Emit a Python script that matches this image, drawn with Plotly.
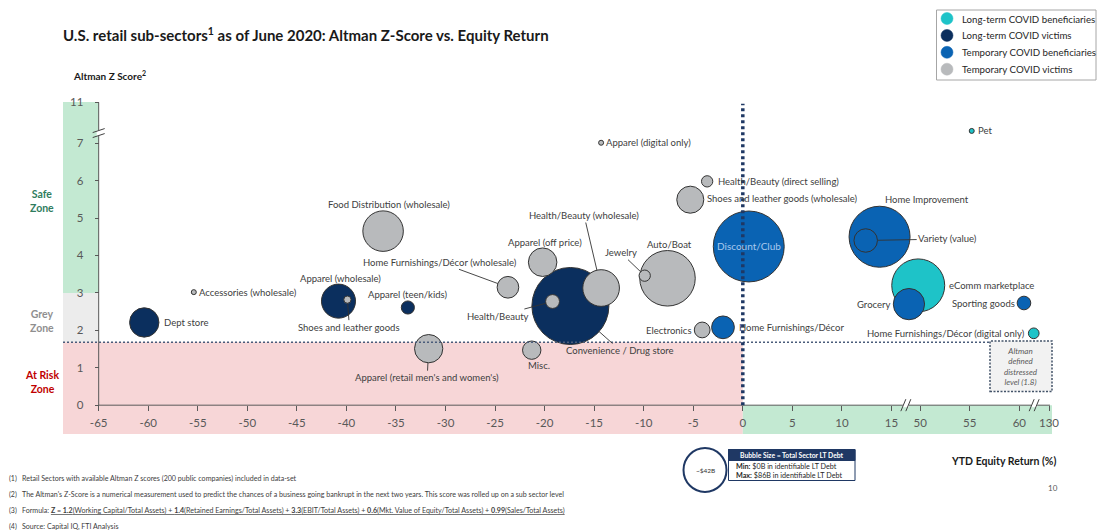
import numpy as np
import plotly.graph_objects as go

# ---------------- data ----------------
categories = ["Long-term COVID beneficiaries", "Long-term COVID victims",
              "Temporary COVID beneficiaries", "Temporary COVID victims"]

sectors = [
    "Pet", "eComm marketplace", "Home Furnishings/Décor (digital only)",
    "Convenience / Drug store", "Dept store", "Apparel (wholesale)", "Apparel (teen/kids)",
    "Discount/Club", "Home Improvement", "Variety (value)", "Grocery", "Sporting goods",
    "Home Furnishings/Décor",
    "Accessories (wholesale)", "Shoes and leather goods", "Food Distribution (wholesale)",
    "Apparel (retail men's and women's)", "Home Furnishings/Décor (wholesale)",
    "Apparel (off price)", "Misc.", "Health/Beauty", "Health/Beauty (wholesale)",
    "Apparel (digital only)", "Auto/Boat", "Jewelry", "Shoes and leather goods (wholesale)",
    "Health/Beauty (direct selling)", "Electronics",
]
sector_group = (
    ["Long-term COVID beneficiaries"] * 3
    + ["Long-term COVID victims"] * 4
    + ["Temporary COVID beneficiaries"] * 6
    + ["Temporary COVID victims"] * 15
)
ytd_return = [55.2, 47.6, 94.0,
              -17.4, -60.4, -40.8, -33.8,
              0.6, 13.8, 12.4, 36.3, 71.0, -2.0,
              -55.4, -39.9, -36.3, -31.7, -23.7, -20.2, -21.3, -19.2, -14.3,
              -14.3, -7.6, -9.9, -5.3, -3.6, -4.1]
z_score = [8.2, 3.2, 1.92,
           2.65, 2.21, 2.78, 2.61,
           4.24, 4.5, 4.4, 2.7, 2.73, 2.08,
           3.02, 2.82, 4.65, 1.51, 3.15, 3.82, 1.47, 2.77, 3.13,
           7.04, 3.39, 3.46, 5.49, 5.98, 2.01]
lt_debt = [0.36, 40.7, 1.66,
           86.0, 12.5, 16.8, 2.5,
           73.0, 54.0, 8.0, 14.2, 2.7, 7.5,
           0.23, 0.77, 23.8, 11.6, 6.8, 11.8, 4.9, 2.8, 19.5,
           0.13, 44.7, 1.85, 10.6, 1.85, 3.6]

x_tick_values = [-65, -60, -55, -50, -45, -40, -35, -30, -25, -20, -15, -10, -5, 0, 5, 10, 15, 50, 55, 60, 130]
y_tick_values = [0, 1, 2, 3, 4, 5, 6, 7, 11]

# ---------------- broken-axis scales ----------------
X_REAL = [-65, 15, 50, 60, 130]
X_AXIS = [-65, 15, 17.9, 27.9, 30.9]
Y_REAL = [0, 7, 11]
Y_AXIS = [0, 7, 8.09]


def xmap(v):
    return np.interp(v, X_REAL, X_AXIS)


def ymap(v):
    return np.interp(v, Y_REAL, Y_AXIS)


XMIN, XMAX = -68.6, 31.2
YMIN, YMAX = -0.77, 8.1
DISTRESS = 1.68

# plot area in pixels
PL, PR, PT, PB = 63, 1052, 102, 434


def fx(px):
    return (px - PL) / (PR - PL)


def fy(py):
    return (PB - py) / (PB - PT)


colors = {
    "Long-term COVID beneficiaries": "#1ec3c8",
    "Long-term COVID victims": "#0b2f5e",
    "Temporary COVID beneficiaries": "#0a63b3",
    "Temporary COVID victims": "#b8babc",
}
FONT = "Lato"
TXT = "#404040"
NAVY = "#1f3864"

sizeref = 2 * max(lt_debt) / 77 ** 2

fig = go.Figure()
for cat in categories:
    idx = [i for i, g in enumerate(sector_group) if g == cat]
    fig.add_trace(go.Scatter(
        x=xmap([ytd_return[i] for i in idx]),
        y=ymap([z_score[i] for i in idx]),
        mode="markers",
        name=cat,
        text=[sectors[i] for i in idx],
        showlegend=False,
        marker=dict(size=[lt_debt[i] for i in idx], sizemode="area", sizeref=sizeref,
                    sizemin=2.5, color=colors[cat], opacity=1,
                    line=dict(color="#333333", width=1)),
        cliponaxis=False,
    ))

# ---------------- labels ----------------
side_labels = {
    "Apparel (digital only)": ("left", 3, 0),
    "Pet": ("left", 4, 0),
    "Health/Beauty (direct selling)": ("left", 9, 0),
    "Shoes and leather goods (wholesale)": ("left", 15, -1.5),
    "Home Improvement": ("center", 47, -37),
    "Auto/Boat": ("center", 2, -34),
    "Food Distribution (wholesale)": ("center", 6, -26.5),
    "Apparel (off price)": ("center", 2, -20),
    "Apparel (wholesale)": ("center", 2, -23),
    "Apparel (teen/kids)": ("center", 0, -13),
    "Misc.": ("center", 7, 15.5),
    "Accessories (wholesale)": ("left", 3, 0),
    "Dept store": ("left", 18, 0),
    "Electronics": ("right", -8, 0.5),
    "Home Furnishings/Décor": ("left", 14, 0),
    "eComm marketplace": ("left", 28.5, 0),
    "Grocery": ("right", -17, 0),
    "Sporting goods": ("right", -7, 0),
    "Home Furnishings/Décor (digital only)": ("right", -7, 0),
}
arrow_labels = {
    "Variety (value)": (82, -1.5, 12),
    "Jewelry": (-24, -23, 6),
    "Health/Beauty (wholesale)": (-17, -72.5, 18),
    "Home Furnishings/Décor (wholesale)": (-68, -25, 11),
    "Shoes and leather goods": (2, 27.5, 4),
    "Health/Beauty": (-54.5, 14.5, 7),
    "Convenience / Drug store": (50, 44.5, 38),
    "Apparel (retail men's and women's)": (-1.5, 29, 14),
}

annotations = []
lab_font = dict(family=FONT, size=9.5, color=TXT)
for i, name in enumerate(sectors):
    xv, yv = float(xmap(ytd_return[i])), float(ymap(z_score[i]))
    if name in side_labels:
        anc, dx, dy = side_labels[name]
        annotations.append(dict(x=xv, y=yv, xref="x", yref="y", text=name, showarrow=False,
                                xanchor=anc, yanchor="middle", xshift=dx, yshift=-dy, font=lab_font))
    elif name in arrow_labels:
        ax, ay, so = arrow_labels[name]
        annotations.append(dict(x=xv, y=yv, xref="x", yref="y", text=name, showarrow=True,
                                arrowhead=0, arrowwidth=0.9, arrowcolor="#333333", ax=ax, ay=ay,
                                standoff=so, font=lab_font))
    elif name == "Discount/Club":
        annotations.append(dict(x=xv, y=yv, xref="x", yref="y", text=name, showarrow=False,
                                yshift=0.7, font=dict(family=FONT, size=10, color="#a9c9ee")))

# titles & texts
def pa(px, py, text, size, color=TXT, xanchor="left", bold=False, italic=False):
    t = text
    if bold:
        t = "<b>" + t + "</b>"
    if italic:
        t = "<i>" + t + "</i>"
    return dict(x=fx(px), y=fy(py), xref="paper", yref="paper", text=t, showarrow=False,
                xanchor=xanchor, yanchor="middle", font=dict(family=FONT, size=size, color=color))


annotations += [
    pa(61, 35, "U.S. retail sub-sectors<sup>1</sup> as of June 2020: Altman Z-Score vs. Equity Return",
       15, "#1a1a1a", bold=True),
    pa(71, 76, "Altman Z Score<sup>2</sup>", 10, "#1a1a1a", bold=True),
    pa(1058, 461, "YTD Equity Return (%)", 10.5, "#1a1a1a", xanchor="right", bold=True),
    pa(42, 201, "Safe<br>Zone", 10.5, "#2f7d5e", xanchor="center", bold=True),
    pa(42, 321, "Grey<br>Zone", 10.5, "#8f8f8f", xanchor="center", bold=True),
    pa(42, 382, "At Risk<br>Zone", 10.5, "#c00000", xanchor="center", bold=True),
    pa(1021, 366.5, "Altman<br>defined<br>distressed<br>level (1.8)", 8, "#595959",
       xanchor="center", italic=True),
    pa(1060, 488, "10", 8, "#595959", xanchor="right"),
    pa(705, 470, "~$42B", 6.5, "#333333", xanchor="center"),
    pa(791.5, 455, "Bubble Size = Total Sector LT Debt", 6.8, "#ffffff", xanchor="center", bold=True),
    pa(734, 466.5, "<b>Min:</b> $0B in identifiable LT Debt", 7.2, "#262626"),
    pa(734, 475, "<b>Max:</b> $86B in identifiable LT Debt", 7.2, "#262626"),
]

footnotes = [
    "Retail Sectors with available Altman Z scores (200 public companies) included in data-set",
    "The Altman's Z-Score is a numerical measurement used to predict the chances of a business going "
    "bankrupt in the next two years. This score was rolled up on a sub sector level",
    "Formula: <u><b>Z = 1.2</b>(Working Capital/Total Assets) + <b>1.4</b>(Retained Earnings/Total Assets) + "
    "<b>3.3</b>(EBIT/Total Assets) + <b>0.6</b>(Mkt. Value of Equity/Total Assets) + "
    "<b>0.99</b>(Sales/Total Assets)</u>",
    "Source: Capital IQ, FTI Analysis",
]
for k, note in enumerate(footnotes):
    yy = 478 + 16 * k
    annotations.append(pa(7, yy, f"({k + 1})", 7, TXT))
    annotations.append(pa(20, yy, note, 7.1, TXT))

# custom legend
leg_y = [18.5, 35.4, 52.3, 69.2]
for cat, ly in zip(categories, leg_y):
    annotations.append(pa(960, ly, cat, 9.7, "#262626"))

# ---------------- shapes ----------------
shapes = []


def rect_data(x0, x1, y0, y1, color):
    return dict(type="rect", xref="x", yref="y", x0=x0, x1=x1, y0=y0, y1=y1,
                fillcolor=color, line=dict(width=0), layer="below")


shapes += [
    rect_data(XMIN, -65, 3, YMAX, "#c3e9d2"),
    rect_data(XMIN, -65, DISTRESS, 3, "#ececec"),
    rect_data(XMIN, 0, YMIN, DISTRESS, "#f7d6d7"),
    rect_data(0, XMAX, YMIN, 0, "#c3e9d2"),
]
# distress line
shapes.append(dict(type="line", xref="paper", yref="y", x0=0, x1=fx(990), y0=DISTRESS, y1=DISTRESS,
                   line=dict(color="#4a5c7a", width=1.5, dash="2px,2px")))
# axis lines
shapes.append(dict(type="line", xref="x", yref="y", x0=-65, x1=-65, y0=0, y1=8.09,
                   line=dict(color="#595959", width=1)))
shapes.append(dict(type="line", xref="x", yref="y", x0=-65, x1=31.0, y0=0, y1=0,
                   line=dict(color="#595959", width=1)))
# zero-return line
shapes.append(dict(type="line", xref="x", yref="y", x0=0, x1=0, y0=0, y1=8.05,
                   line=dict(color=NAVY, width=3.5, dash="3px,3px")))
# distress box
shapes.append(dict(type="rect", xref="paper", yref="paper", x0=fx(990), x1=fx(1052), y0=fy(391.5), y1=fy(341),
                   fillcolor="#f2f2f2", line=dict(color="#44546a", width=1.5, dash="2px,1.5px")))

# axis break marks
def brk_x(xv):
    out = [dict(type="rect", xref="x", yref="y", xsizemode="pixel", ysizemode="pixel",
                xanchor=xv, yanchor=0, x0=-3, x1=3, y0=-2, y1=2,
                fillcolor="white", line=dict(width=0))]
    for off in (-2.5, 2.5):
        out.append(dict(type="line", xref="x", yref="y", xsizemode="pixel", ysizemode="pixel",
                        xanchor=xv, yanchor=0, x0=off - 2.5, x1=off + 2.5, y0=-6, y1=6,
                        line=dict(color="#404040", width=1)))
    return out


shapes += brk_x(16.45) + brk_x(29.4)
shapes.append(dict(type="rect", xref="x", yref="y", xsizemode="pixel", ysizemode="pixel",
                   xanchor=-65, yanchor=7.27, x0=-2, x1=2, y0=-3, y1=3,
                   fillcolor="white", line=dict(width=0)))
for off in (-2.5, 2.5):
    shapes.append(dict(type="line", xref="x", yref="y", xsizemode="pixel", ysizemode="pixel",
                       xanchor=-65, yanchor=7.27, x0=-6, x1=6, y0=off - 2, y1=off + 2,
                       line=dict(color="#404040", width=1)))

# custom legend shapes
shapes.append(dict(type="rect", xref="paper", yref="paper", x0=fx(936.5), x1=fx(1096), y0=fy(80), y1=fy(10),
                   fillcolor="white", line=dict(color="#a6a6a6", width=1)))
for cat, ly in zip(categories, leg_y):
    shapes.append(dict(type="circle", xref="paper", yref="paper", xsizemode="pixel", ysizemode="pixel",
                       xanchor=fx(947), yanchor=fy(ly), x0=-6, x1=6, y0=-6, y1=6,
                       fillcolor=colors[cat], line=dict(color=colors[cat], width=0.5)))

# bubble-size legend
shapes.append(dict(type="circle", xref="paper", yref="paper", xsizemode="pixel", ysizemode="pixel",
                   xanchor=fx(705), yanchor=fy(470), x0=-21.5, x1=21.5, y0=-22, y1=22,
                   fillcolor="white", line=dict(color=NAVY, width=2)))
shapes.append(dict(type="rect", xref="paper", yref="paper", x0=fx(728.5), x1=fx(855), y0=fy(480.5), y1=fy(449.5),
                   fillcolor="white", line=dict(color=NAVY, width=1)))
shapes.append(dict(type="rect", xref="paper", yref="paper", x0=fx(728.5), x1=fx(855), y0=fy(460.5), y1=fy(449.5),
                   fillcolor=NAVY, line=dict(color=NAVY, width=1)))

fig.update_layout(
    width=1100, height=530,
    margin=dict(l=PL, r=1100 - PR, t=PT, b=530 - PB),
    paper_bgcolor="white", plot_bgcolor="rgba(0,0,0,0)",
    font=dict(family=FONT, color=TXT),
    showlegend=False,
    xaxis=dict(range=[XMIN, XMAX], anchor="free", position=(0 - YMIN) / (YMAX - YMIN),
               tickvals=xmap(x_tick_values), ticktext=[str(v) for v in x_tick_values],
               ticks="outside", ticklen=5, tickcolor="#595959", showgrid=False, zeroline=False,
               showline=False, tickfont=dict(family=FONT, size=11.5, color="#595959"),
               ticklabelstandoff=2),
    yaxis=dict(range=[YMIN, YMAX], anchor="free", position=(-65 - XMIN) / (XMAX - XMIN),
               tickvals=ymap(y_tick_values), ticktext=[str(v) for v in y_tick_values],
               ticks="outside", ticklen=4, tickcolor="#595959", showgrid=False, zeroline=False,
               showline=False, tickfont=dict(family=FONT, size=11.5, color="#595959"),
               ticklabelstandoff=9),
    annotations=annotations,
    shapes=shapes,
)

fig.write_html("out.html")
